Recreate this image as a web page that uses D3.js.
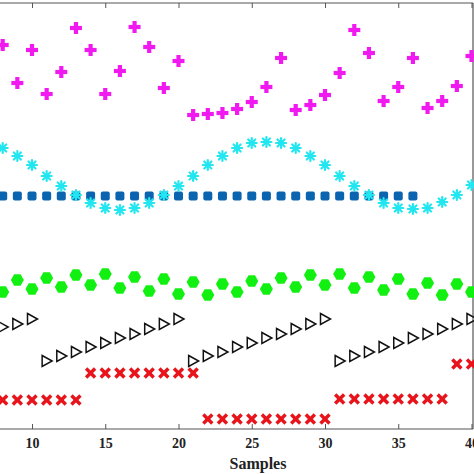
<!DOCTYPE html>
<html><head><meta charset="utf-8">
<script src="https://cdn.jsdelivr.net/npm/d3@7"></script>
<style>body{margin:0;background:#fff}svg{display:block}</style>
</head><body>
<svg id="c" width="474" height="474"></svg>
<script>
const samples = d3.range(8, 41);
const plusVals = [384,346,379,335,357,401,379,335,358,402,382,341,368,314,315,316,320,327,342,371,319,324,334,356,399,376,328,342,371,321,328,343,373];
const starVals = [281,273,264,253,243,234,226,221,219,221,226,234,243,253,264,273,281,286,287,286,281,273,264,253,243,234,226,221,220,221,227,234,244];
const squareVals = d3.range(8, 37).map(() => 233);
const hexVals = [137,149,140,151,142,154,144,155,141,152,138,150,135,147,134,145,137,148,140,151,142,154,144,155,141,152,139,150,135,146,134,145,137];
const ramp = [68,73,77,82,86,91,95,100,105,110];
const triVals = [102,105,110].concat(ramp, ramp, ramp);
const crossVals = [29,29,29,29,29,29, 56,56,56,56,56,56,56,56, 10,10,10,10,10,10,10,10,10, 30,30,30,30,30,30,30,30, 65,65];
const xTicks = [5,10,15,20,25,30,35,40];

const svg = d3.select("#c");
const x = d3.scaleLinear().domain([10, 40]).range([32, 471.5]);
const y = d3.scaleLinear().domain([0, 426]).range([429, 3]);
const pts = vals => vals.map((v, i) => [samples[i], v]);

// frame
svg.append("line").attr("x1",-5).attr("x2",473).attr("y1",3).attr("y2",3).attr("stroke","#555").attr("stroke-width",1.2);
svg.append("line").attr("x1",-5).attr("x2",473).attr("y1",429).attr("y2",429).attr("stroke","#555").attr("stroke-width",1.2);
svg.append("line").attr("x1",473).attr("x2",473).attr("y1",3).attr("y2",429).attr("stroke","#555").attr("stroke-width",1.2);

const bottomAxis = svg.append("g").attr("transform","translate(0,429)")
  .call(d3.axisBottom(x).tickValues(xTicks).tickSize(-5).tickPadding(9));
bottomAxis.select(".domain").remove();
bottomAxis.selectAll("line").attr("stroke","#555");
bottomAxis.selectAll("text").attr("font-family","Liberation Serif").attr("font-weight","bold").attr("font-size",14).attr("fill","#222");
const topAxis = svg.append("g").attr("transform","translate(0,3)")
  .call(d3.axisTop(x).tickValues(xTicks).tickSize(-5).tickFormat(""));
topAxis.select(".domain").remove();
topAxis.selectAll("line").attr("stroke","#555");

svg.append("text").attr("x",258).attr("y",469).attr("text-anchor","middle")
  .attr("font-family","Liberation Serif").attr("font-weight","bold").attr("font-size",16).attr("fill","#222").text("Samples");

// squares
svg.append("g").selectAll("rect").data(pts(squareVals)).join("rect")
  .attr("x",d=>x(d[0])-4.5).attr("y",d=>y(d[1])-4.5).attr("width",9).attr("height",9).attr("rx",2)
  .attr("fill","#0a64b0");
// asterisks
const star = svg.append("g").attr("stroke","#22e6f0").attr("stroke-width",2.2).attr("stroke-linecap","round");
pts(starVals).forEach(d => {
  const cx = x(d[0]), cy = y(d[1]), r = 5;
  for (let k = 0; k < 4; k++) {
    const a = k * Math.PI / 4;
    star.append("line").attr("x1",cx-r*Math.cos(a)).attr("y1",cy-r*Math.sin(a)).attr("x2",cx+r*Math.cos(a)).attr("y2",cy+r*Math.sin(a));
  }
});
// plus
const plus = svg.append("g").attr("stroke","#f01af0").attr("stroke-width",4.2);
pts(plusVals).forEach(d => {
  const cx = x(d[0]), cy = y(d[1]), r = 6;
  plus.append("line").attr("x1",cx-r).attr("x2",cx+r).attr("y1",cy).attr("y2",cy);
  plus.append("line").attr("x1",cx).attr("x2",cx).attr("y1",cy-r).attr("y2",cy+r);
});
// hexagons
const hex = r => d3.range(6).map(k => [r*Math.cos(k*Math.PI/3), r*Math.sin(k*Math.PI/3)]);
svg.append("g").selectAll("path").data(pts(hexVals)).join("path")
  .attr("d","M"+hex(6.5).join("L")+"Z")
  .attr("transform",d=>`translate(${x(d[0])},${y(d[1])})`).attr("fill","#12f012");
// triangles
svg.append("g").selectAll("path").data(pts(triVals)).join("path")
  .attr("d","M-4.5,-5.5L5.5,0L-4.5,5.5Z")
  .attr("transform",d=>`translate(${x(d[0])},${y(d[1])})`)
  .attr("fill","none").attr("stroke","#111").attr("stroke-width",1.5);
// crosses
const cross = svg.append("g").attr("stroke","#e8141b").attr("stroke-width",3.4);
pts(crossVals).forEach(d => {
  const cx = x(d[0]), cy = y(d[1]), r = 4.5;
  cross.append("line").attr("x1",cx-r).attr("x2",cx+r).attr("y1",cy-r).attr("y2",cy+r);
  cross.append("line").attr("x1",cx-r).attr("x2",cx+r).attr("y1",cy+r).attr("y2",cy-r);
});
</script>
</body></html>
